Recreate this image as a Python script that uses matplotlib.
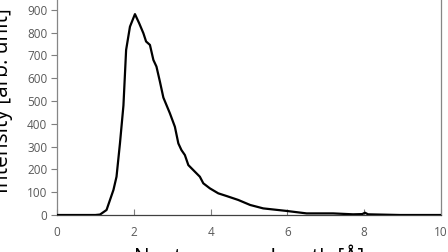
import matplotlib.pyplot as plt

# wavelength [A] and intensity
wavelength = [0.0, 0.5, 1.0, 1.12, 1.29, 1.38, 1.47, 1.55, 1.64, 1.73, 1.80, 1.90,
              2.03, 2.14, 2.25, 2.32, 2.42, 2.51, 2.59, 2.68, 2.77, 2.94, 3.07,
              3.16, 3.24, 3.33, 3.42, 3.59, 3.72, 3.81, 3.98, 4.20, 4.42, 4.72,
              5.03, 5.37, 5.97, 6.50, 7.19, 7.71, 7.95, 8.02, 8.10, 8.93, 10.0]
intensity = [0, 0, 0, 2, 22, 66, 110, 168, 315, 480, 724, 826,
             881, 841, 797, 761, 746, 680, 651, 585, 515, 446, 387,
             314, 285, 263, 219, 190, 168, 139, 117, 95, 83, 66,
             44, 29, 18, 7, 7, 3, 4, 10, 3, 0, 0]

x_ticks = [0, 2, 4, 6, 8, 10]
y_ticks = list(range(0, 1001, 100))

plt.rcParams['font.family'] = ['Open Sans', 'DejaVu Sans']

fig = plt.figure(figsize=(4.48, 2.52), dpi=100)
ax = fig.add_axes([57 / 448, 37 / 252, 384 / 448, 228 / 252])

ax.plot(wavelength, intensity, color='black', linewidth=1.6, zorder=3)

ax.set_xlim(0, 10)
ax.set_ylim(0, 1000)
ax.set_xticks(x_ticks)
ax.set_yticks(y_ticks)

ax.tick_params(axis='x', direction='in', length=4, width=0.8, color='#7f7f7f',
               labelsize=8.5, labelcolor='#595959', pad=8)
ax.tick_params(axis='y', direction='out', length=4, width=0.8, color='#7f7f7f',
               labelsize=8.5, labelcolor='#595959', pad=3)

for side in ['left', 'right', 'bottom']:
    ax.spines[side].set_color('#868686')
    ax.spines[side].set_linewidth(0.9)
ax.spines['bottom'].set_color('#404040')
ax.spines['top'].set_visible(False)

ax.set_ylabel('Intensity [arb. unit]', fontsize=15, color='black', labelpad=5)
ax.set_xlabel('Neutron wavelength [Å]', fontsize=15, color='black', labelpad=4)

fig.savefig('out.png', dpi=100)
